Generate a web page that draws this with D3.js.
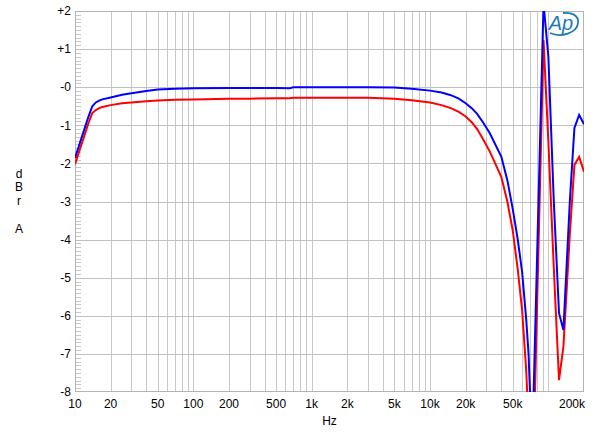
<!DOCTYPE html>
<html>
<head>
<meta charset="utf-8">
<script src="https://cdn.jsdelivr.net/npm/d3@7"></script>
<style>
  body { margin: 0; background: #fff; }
  svg { display: block; font-family: "Liberation Sans", Arial, sans-serif; }
</style>
</head>
<body>
<div id="chart"></div>
<script>
// frequency points (Hz)
var freqs = [10, 12, 13, 14, 15, 16, 17, 20, 25, 30, 40, 50, 70, 100, 200, 300, 500, 650, 700,
    1000, 2000, 3000, 5000, 7000, 10000, 12500, 15000, 17500, 20000, 22500, 25000, 28000,
    32000, 40000, 45000, 50000, 55000, 60000, 65000, 68000, 73000, 91000, 100000, 111000,
    123000, 134000, 152000, 166000, 182000, 200000];

// dBr, blue trace
var blueVals = [-1.86, -1.1, -0.77, -0.5, -0.4, -0.35, -0.32, -0.27, -0.2, -0.16, -0.1, -0.06,
    -0.04, -0.03, -0.02, -0.02, -0.02, -0.03, 0.0, 0.0, 0.0, 0.0, -0.01, -0.04, -0.09, -0.14,
    -0.21, -0.3, -0.42, -0.55, -0.7, -0.92, -1.21, -1.82, -2.44, -3.2, -3.98, -4.85, -6.1,
    -7.0, -9.5, 2.2, 0.8, -2.96, -5.93, -6.37, -2.96, -1.07, -0.73, -0.97];

// dBr, red trace
var redVals = [-2.02, -1.27, -0.94, -0.68, -0.6, -0.55, -0.52, -0.47, -0.42, -0.4, -0.37, -0.35,
    -0.33, -0.32, -0.3, -0.3, -0.29, -0.29, -0.28, -0.28, -0.28, -0.28, -0.3, -0.34, -0.4,
    -0.47, -0.55, -0.65, -0.77, -0.92, -1.1, -1.36, -1.69, -2.35, -3.0, -3.76, -4.76, -5.85,
    -7.45, -8.8, -11, 1.24, -1.43, -4.71, -7.69, -6.81, -3.83, -2.04, -1.83, -2.22];

var xTickVals = [10, 20, 50, 100, 200, 500, 1000, 2000, 5000, 10000, 20000, 50000, 200000];
var xTickLabels = ["10", "20", "50", "100", "200", "500", "1k", "2k", "5k", "10k", "20k", "50k", "200k"];
var yTickVals = [2, 1, 0, -1, -2, -3, -4, -5, -6, -7, -8];
var yTickLabels = ["+2", "+1", "-0", "-1", "-2", "-3", "-4", "-5", "-6", "-7", "-8"];

var W = 600, H = 440;
var margin = { top: 11, right: 16, bottom: 48, left: 75 };
var pw = W - margin.left - margin.right,
    ph = H - margin.top - margin.bottom;

var x = d3.scaleLog().domain([10, 200000]).range([0, pw]);
var y = d3.scaleLinear().domain([-8, 2]).range([ph, 0]);

var svg = d3.select("#chart").append("svg")
    .attr("width", W).attr("height", H);

svg.append("defs").append("clipPath").attr("id", "clip")
    .append("rect").attr("width", pw).attr("height", ph);

var g = svg.append("g").attr("transform", `translate(${margin.left},${margin.top})`);

// vertical grid: every 1..9 of each decade
var gridF = [];
for (var dec = 10; dec <= 100000; dec *= 10) {
    for (var k = 1; k <= 9; k++) {
        var f = dec * k;
        if (f > 10 && f < 200000) gridF.push(f);
    }
}
g.append("g").selectAll("line").data(gridF).join("line")
    .attr("x1", d => Math.round(x(d)) + 0.5).attr("x2", d => Math.round(x(d)) + 0.5)
    .attr("y1", 0).attr("y2", ph)
    .attr("stroke", "#c8c8c8").attr("stroke-width", 1);

// horizontal grid
g.append("g").selectAll("line").data(yTickVals.slice(1, -1)).join("line")
    .attr("x1", 0).attr("x2", pw)
    .attr("y1", d => Math.round(y(d)) + 0.5).attr("y2", d => Math.round(y(d)) + 0.5)
    .attr("stroke", "#c0c0c0").attr("stroke-width", 1);

// minor ticks on left edge (0.1 dB)
var minor = d3.range(-80, 21).map(v => v / 10).filter(v => Math.abs(v - Math.round(v)) > 1e-6);
g.append("g").selectAll("line").data(minor).join("line")
    .attr("x1", 0).attr("x2", 6)
    .attr("y1", d => Math.round(y(d)) + 0.5).attr("y2", d => Math.round(y(d)) + 0.5)
    .attr("stroke", "#c8c8c8").attr("stroke-width", 1);

// frame
g.append("rect").attr("x", 0.5).attr("y", 0.5).attr("width", pw - 1).attr("height", ph - 1)
    .attr("fill", "none").attr("stroke", "#b4b4b4").attr("stroke-width", 1);

// traces
var line = d3.line().x(d => x(d[0])).y(d => y(d[1]));
var traces = g.append("g").attr("clip-path", "url(#clip)");
traces.append("path")
    .datum(freqs.map((f, i) => [f, redVals[i]]))
    .attr("d", line).attr("fill", "none").attr("stroke", "#ff0000").attr("stroke-width", 2);
traces.append("path")
    .datum(freqs.map((f, i) => [f, blueVals[i]]))
    .attr("d", line).attr("fill", "none").attr("stroke", "#0000ff").attr("stroke-width", 2);

// y tick labels
g.append("g").selectAll("text").data(yTickVals).join("text")
    .attr("x", -4).attr("y", d => y(d)).attr("dy", "0.35em")
    .attr("text-anchor", "end").attr("font-size", 12).attr("fill", "#000")
    .text((d, i) => yTickLabels[i]);

// x tick labels
g.append("g").selectAll("text").data(xTickVals).join("text")
    .attr("x", d => d === 200000 ? x(d) - 12 : x(d)).attr("y", ph + 16)
    .attr("text-anchor", "middle").attr("font-size", 12).attr("fill", "#000")
    .text((d, i) => xTickLabels[i]);

// axis titles
svg.append("text").attr("x", margin.left + pw / 2).attr("y", 425)
    .attr("text-anchor", "middle").attr("font-size", 12).text("Hz");
var yt = [["d", 178], ["B", 191], ["r", 205], ["A", 233]];
svg.append("g").selectAll("text").data(yt).join("text")
    .attr("x", 19).attr("y", d => d[1]).attr("text-anchor", "middle")
    .attr("font-size", 12).text(d => d[0]);

// Ap logo
var logo = svg.append("g").attr("transform", "translate(563,24)");
logo.append("path")
    .attr("d", "M-13,9 C-2,14 14,9 15,-1 C16,-9 8,-12 0,-11")
    .attr("fill", "none").attr("stroke", "#1f7ab8").attr("stroke-width", 1.8);
logo.append("text").attr("x", -2).attr("y", 6).attr("text-anchor", "middle")
    .attr("font-size", 20).attr("font-style", "italic").attr("fill", "#1f7ab8")
    .text("Ap");
</script>
</body>
</html>
